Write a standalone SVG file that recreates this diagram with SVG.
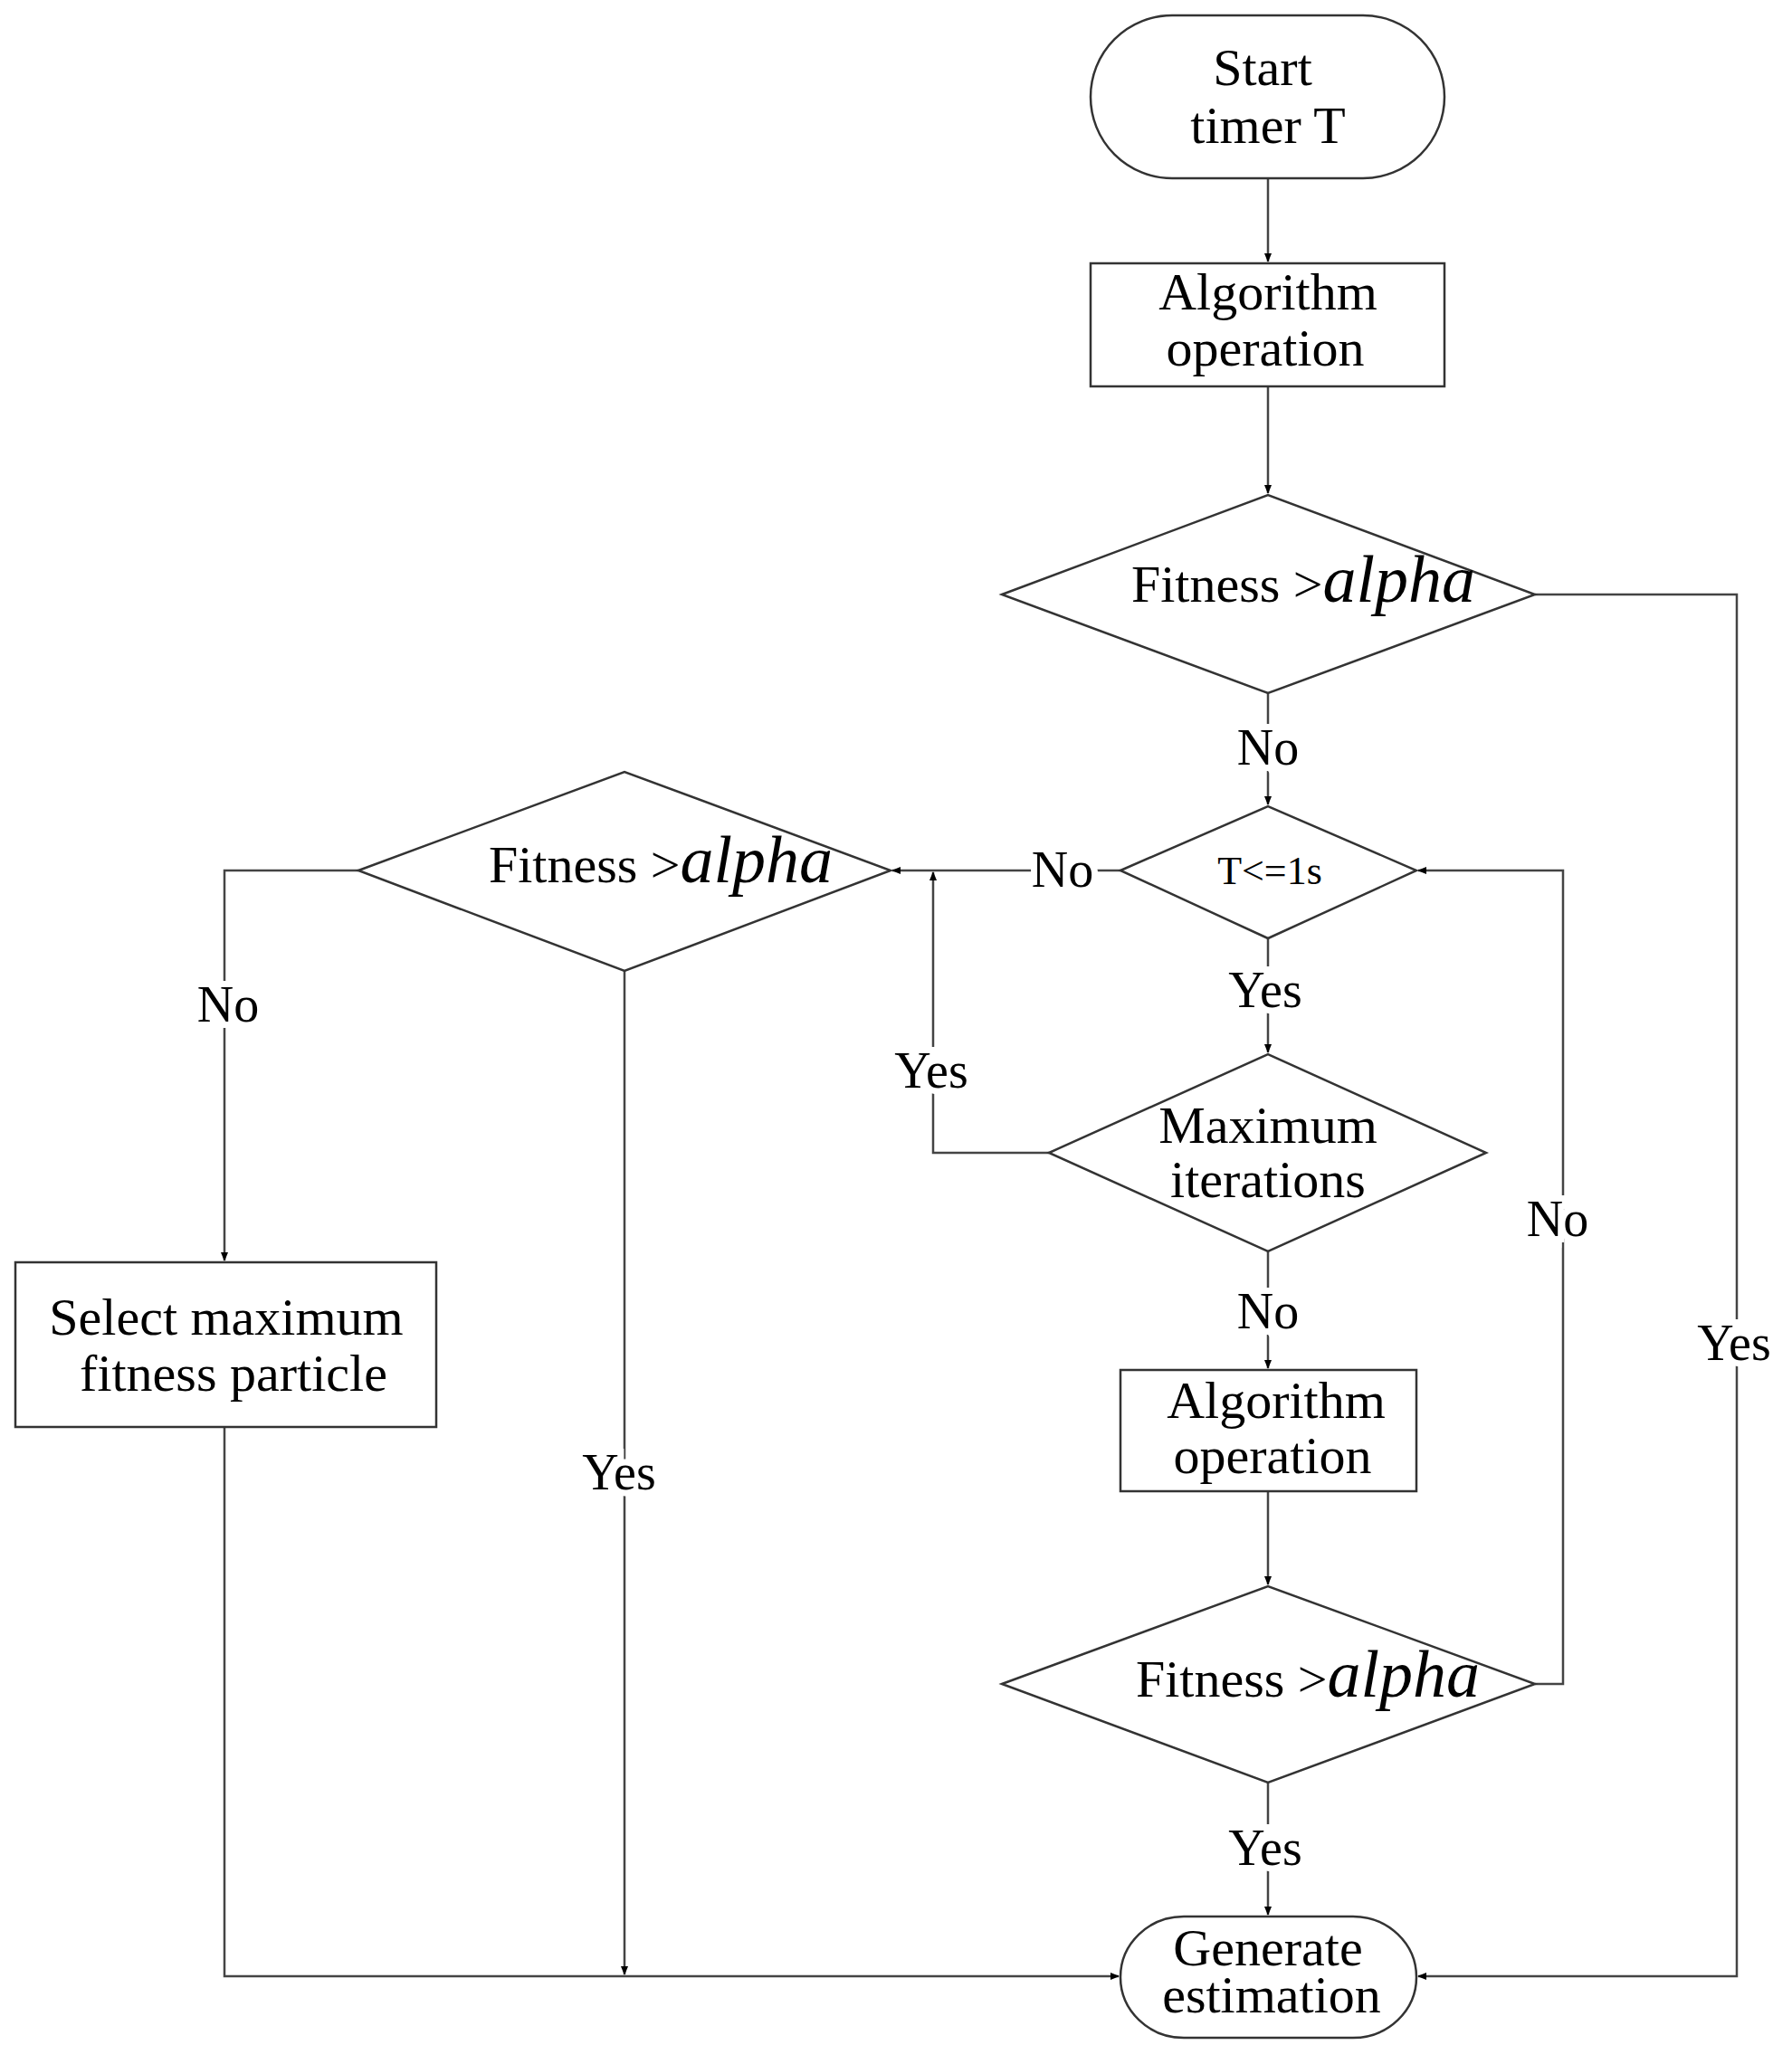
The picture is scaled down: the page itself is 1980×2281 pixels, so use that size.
<svg xmlns="http://www.w3.org/2000/svg" width="1980" height="2281" viewBox="0 0 1980 2281">
<style>
.s{fill:#fff;stroke:#333;stroke-width:2.5}
.c{fill:none;stroke:#444;stroke-width:2.5}
text{font-family:"Liberation Serif","Times New Roman",serif;fill:#000;text-anchor:middle}
.t{font-size:58px}
.l{font-size:56px;stroke:#fff;stroke-width:14px;paint-order:stroke}
.a{font-style:italic;font-size:74px}
</style>
<defs>
<marker id="ar" markerWidth="10" markerHeight="10" refX="9" refY="5" orient="auto" markerUnits="userSpaceOnUse">
<path d="M0,1 L10,5 L0,9 z" fill="#000"/>
</marker>
</defs>
<rect width="1980" height="2281" fill="#fff"/>
<g id="connectors">
<path class="c" d="M1401,197 V289" marker-end="url(#ar)"/>
<path class="c" d="M1401,427 V545" marker-end="url(#ar)"/>
<path class="c" d="M1401,766 V889" marker-end="url(#ar)"/>
<path class="c" d="M1238,962 H986" marker-end="url(#ar)"/>
<path class="c" d="M396,962 H248 V1393" marker-end="url(#ar)"/>
<path class="c" d="M248,1577 V2184 H1236" marker-end="url(#ar)"/>
<path class="c" d="M690,1073 V2182" marker-end="url(#ar)"/>
<path class="c" d="M1401,1037 V1163" marker-end="url(#ar)"/>
<path class="c" d="M1159,1274 H1031 V964" marker-end="url(#ar)"/>
<path class="c" d="M1401,1383 V1512" marker-end="url(#ar)"/>
<path class="c" d="M1401,1648 V1751" marker-end="url(#ar)"/>
<path class="c" d="M1696,1861 H1727 V962 H1567" marker-end="url(#ar)"/>
<path class="c" d="M1401,1970 V2116" marker-end="url(#ar)"/>
<path class="c" d="M1696,657 H1919 V2184 H1567" marker-end="url(#ar)"/>
<text class="l" x="1401" y="845">No</text>
<text class="l" x="1174" y="980">No</text>
<text class="l" x="252" y="1129">No</text>
<text class="l" x="684" y="1646">Yes</text>
<text class="l" x="1029" y="1202">Yes</text>
<text class="l" x="1398" y="1113">Yes</text>
<text class="l" x="1401" y="1468">No</text>
<text class="l" x="1721" y="1366">No</text>
<text class="l" x="1398" y="2061">Yes</text>
<text class="l" x="1916" y="1503">Yes</text>
</g>
<g id="start"><rect class="s" x="1205" y="17" width="391" height="180" rx="90"/>
<text class="t" x="1395" y="94">Start</text><text class="t" x="1401" y="158">timer T</text></g>
<g id="op1"><rect class="s" x="1205" y="291" width="391" height="136"/>
<text class="t" x="1401" y="342">Algorithm</text><text class="t" x="1398" y="404">operation</text></g>
<g id="d1"><polygon class="s" points="1107,657 1401,547 1696,657 1401,766"/>
<text class="t" x="1440" y="665"><tspan>Fitness &gt;</tspan><tspan class="a">alpha</tspan></text></g>
<g id="dT"><polygon class="s" points="1238,962 1401,891 1565,962 1401,1037"/>
<text x="1403" y="977" style="font-size:44px">T&lt;=1s</text></g>
<g id="dL"><polygon class="s" points="396,962 690,853 984,962 690,1073"/>
<text class="t" x="730" y="975"><tspan>Fitness &gt;</tspan><tspan class="a">alpha</tspan></text></g>
<g id="sel"><rect class="s" x="17" y="1395" width="465" height="182"/>
<text class="t" x="250" y="1475">Select maximum</text><text class="t" x="258" y="1537">fitness particle</text></g>
<g id="dMax"><polygon class="s" points="1159,1274 1401,1165 1642,1274 1401,1383"/>
<text class="t" x="1401" y="1263">Maximum</text><text class="t" x="1401" y="1323">iterations</text></g>
<g id="op2"><rect class="s" x="1238" y="1514" width="327" height="134"/>
<text class="t" x="1410" y="1567">Algorithm</text><text class="t" x="1406" y="1628">operation</text></g>
<g id="d3"><polygon class="s" points="1107,1861 1401,1753 1696,1861 1401,1970"/>
<text class="t" x="1445" y="1875"><tspan>Fitness &gt;</tspan><tspan class="a">alpha</tspan></text></g>
<g id="gen"><rect class="s" x="1238" y="2118" width="327" height="134" rx="70"/>
<text class="t" x="1401" y="2172">Generate</text><text class="t" x="1405" y="2224">estimation</text></g>
</svg>
